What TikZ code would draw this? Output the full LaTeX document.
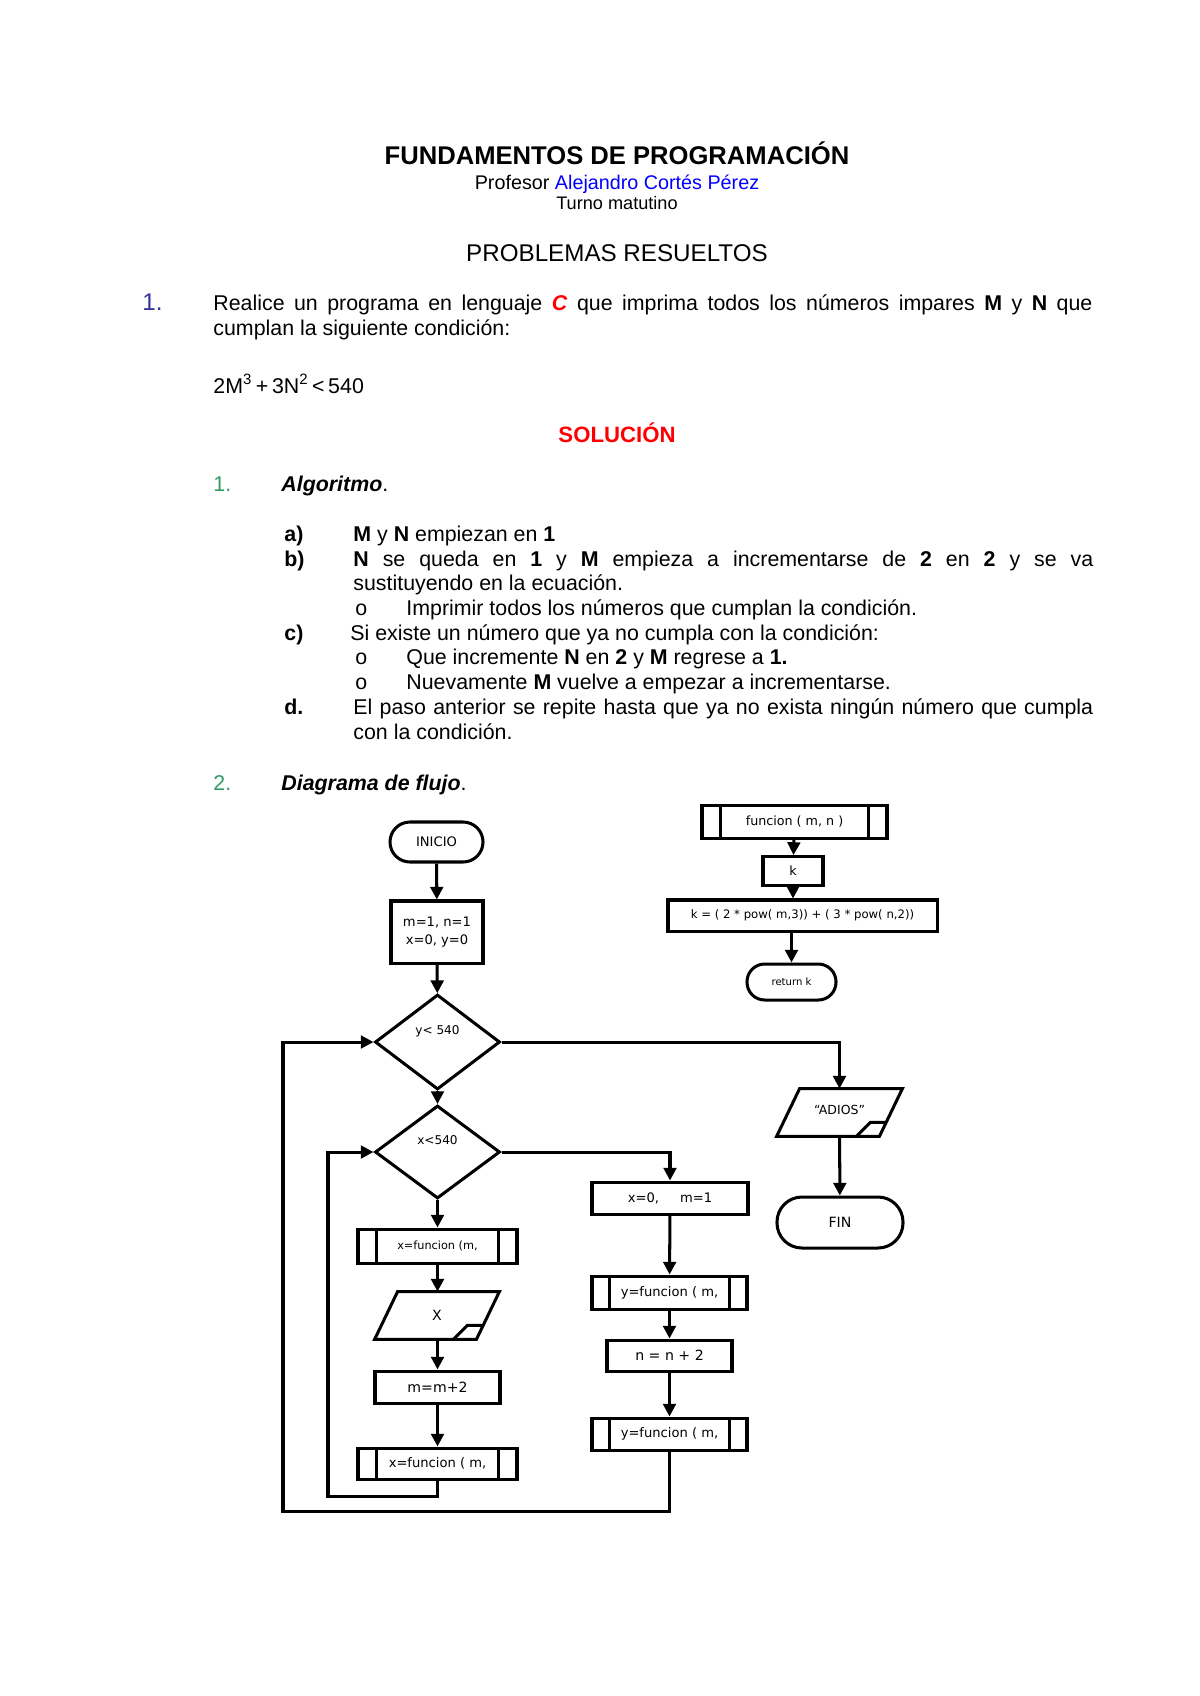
\documentclass[tikz,border=0pt]{standalone}
\usepackage{fontspec}
\setmainfont{Liberation Sans}
\newfontfamily\dfont{DejaVu Sans}
\usetikzlibrary{shapes.geometric,arrows.meta,calc}
\definecolor{numblue}{RGB}{51,51,153}
\definecolor{numgreen}{RGB}{51,153,102}
\begin{document}
\begin{tikzpicture}[x=0.49606pt,y=-0.49606pt,
  txt/.style={anchor=base west,inner sep=0,font=\fontsize{10.6}{13}\selectfont},
  ctxt/.style={anchor=base,inner sep=0},
  sz/.style 2 args={minimum width=#1*0.49606pt,minimum height=#2*0.49606pt},
  fc/.style={draw,line width=1.5pt,inner sep=1pt,align=center,font=\dfont\fontsize{6}{7.5}\selectfont},
  box/.style={fc,rectangle},
  subbox/.style={fc,rectangle},
  term/.style={fc,rectangle,rounded corners=#1},
  dec/.style={fc,diamond},
  io/.style={inner sep=0,align=center,font=\dfont\fontsize{6}{7.5}\selectfont},
  lnk/.style={line width=1.5pt},
  arr/.style={line width=1.5pt,-{Triangle[length=6.3pt,width=6.3pt]}}
]
\fill[white] (0,0) rectangle (1200,1696);
\useasboundingbox (0,0) rectangle (1200,1696);

% ---------- header ----------
\node[ctxt,font=\bfseries\fontsize{12.7}{15}\selectfont] (title) at (617,164.5) {FUNDAMENTOS DE PROGRAMACIÓN};
\node[ctxt,font=\fontsize{9.8}{12}\selectfont] (prof) at (617,189) {Profesor \textcolor{blue}{Alejandro Cortés Pérez}};
\node[ctxt,font=\fontsize{9}{11}\selectfont] (turno) at (617,209) {Turno matutino};
\node[ctxt,font=\fontsize{12}{14}\selectfont] (prob) at (617,261) {PROBLEMAS RESUELTOS};

% ---------- problem ----------
\node[txt,text=numblue,font=\fontsize{12}{14}\selectfont] (n1) at (142,310) {1.};
\node[txt] (l1) at (213,310) {\makebox[436pt][s]{Realice un programa en lenguaje \textcolor{red}{\textbf{\textit{C}}} que imprima todos los números impares \textbf{M} y \textbf{N} que}};
\node[txt] (l2) at (213,335) {cumplan la siguiente condición:};
\node[txt] (eq) at (213,393) {2M\textsuperscript{3}\,+\,3N\textsuperscript{2}\,<\,540};

\node[ctxt,text=red,font=\bfseries\fontsize{11}{13}\selectfont] (sol) at (617,442) {SOLUCIÓN};

\node[txt,text=numgreen] (s1n) at (213,491) {1.};
\node[txt] (s1t) at (281,491) {\textbf{\textit{Algoritmo}}.};

\node[txt] (am) at (284,541) {\textbf{a)}};
\node[txt] (at) at (353,541) {\textbf{M} y \textbf{N} empiezan en \textbf{1}};
\node[txt] (bm) at (284,566) {\textbf{b)}};
\node[txt] (bt) at (353,566) {\makebox[367pt][s]{\textbf{N} se queda en \textbf{1} y \textbf{M} empieza a incrementarse de \textbf{2} en \textbf{2} y se va}};
\node[txt] (bt2) at (353,590) {sustituyendo en la ecuación.};
\node[txt] (o1) at (355,615) {o};
\node[txt] (o1t) at (406,615) {Imprimir todos los números que cumplan la condición.};
\node[txt] (cm) at (284,640) {\textbf{c)}};
\node[txt] (ct) at (350,640) {Si existe un número que ya no cumpla con la condición:};
\node[txt] (o2) at (355,664) {o};
\node[txt] (o2t) at (406,664) {Que incremente \textbf{N} en \textbf{2} y \textbf{M} regrese a \textbf{1.}};
\node[txt] (o3) at (355,689) {o};
\node[txt] (o3t) at (406,689) {Nuevamente \textbf{M} vuelve a empezar a incrementarse.};
\node[txt] (dm) at (284,714) {\textbf{d.}};
\node[txt] (dt) at (353,714) {\makebox[367pt][s]{El paso anterior se repite hasta que ya no exista ningún número que cumpla}};
\node[txt] (dt2) at (353,739) {con la condición.};

\node[txt,text=numgreen] (s2n) at (213,790) {2.};
\node[txt] (s2t) at (281,790) {\textbf{\textit{Diagrama de flujo}}.};

% ---------- flowchart: main ----------
\node[term=9.9pt,sz={93}{40},font=\dfont\fontsize{6.5}{8}\selectfont] (inicio) at (436.5,842) {INICIO};
\node[box,sz={92}{62},font=\dfont\fontsize{6.5}{9}\selectfont] (init) at (437,932) {m=1, n=1\\x=0, y=0};
\node[dec,sz={125}{95}] (d1) at (437.5,1042) {\raisebox{3.5pt}[0pt][0pt]{y< 540}};
\node[dec,sz={125}{93}] (d2) at (437.5,1152) {\raisebox{3.5pt}[0pt][0pt]{x<540}};
\node[subbox,sz={159}{34},font=\dfont\fontsize{5.6}{7}\selectfont] (s1) at (437.5,1246) {x=funcion (m,};
\node[io,sz={124}{47},font=\dfont\fontsize{7}{8}\selectfont] (xout) at (437,1315.5) {\raisebox{-2pt}{X}};
\node[box,sz={125}{32},font=\dfont\fontsize{7}{8}\selectfont] (mm) at (437.5,1387) {m=m+2};
\node[subbox,sz={159}{31},font=\dfont\fontsize{6.5}{8}\selectfont] (s2) at (437.5,1463.5) {x=funcion ( m,};

% right branch
\node[box,sz={156}{32},font=\dfont\fontsize{6.5}{8}\selectfont] (x0) at (670,1198) {x=0,\hspace{1.6em}m=1};
\node[subbox,sz={155}{33},font=\dfont\fontsize{6.5}{8}\selectfont] (y1) at (669.5,1292.5) {y=funcion ( m,};
\node[box,sz={125}{31},font=\dfont\fontsize{7}{8}\selectfont] (nn) at (669.5,1355.5) {n = n + 2};
\node[subbox,sz={155}{32},font=\dfont\fontsize{6.5}{8}\selectfont] (y2) at (669.5,1434) {y=funcion ( m,};

% exit
\node[io,sz={125}{47},font=\dfont\fontsize{6.2}{8}\selectfont] (adios) at (839.5,1112.5) {\raisebox{2.5pt}{“ADIOS”}};
\node[term=12.4pt,sz={126}{51},font=\dfont\fontsize{7}{8}\selectfont] (fin) at (840,1222.5) {FIN};

% function
\node[subbox,sz={185}{33},font=\dfont\fontsize{6.3}{8}\selectfont] (func) at (794.5,822) {funcion ( m, n )};
\node[box,sz={60}{29},font=\dfont\fontsize{6.3}{8}\selectfont] (kdecl) at (793,871) {k};
\node[box,sz={269}{31},font=\dfont\fontsize{5.8}{7}\selectfont] (keq) at (802.5,915.5) {k = ( 2 * pow( m,3)) + ( 3 * pow( n,2))};
\node[term=8.8pt,sz={89}{36},font=\dfont\fontsize{5}{6}\selectfont] (ret) at (791.5,982) {return k};

% subroutine side bars
\foreach \n/\o in {s1/20,s2/20,y1/19,y2/19,func/20}{
  \draw[lnk] ($(\n.north west)+(\o,0)$) -- ($(\n.south west)+(\o,0)$);
  \draw[lnk] ($(\n.north east)+(-\o,0)$) -- ($(\n.south east)+(-\o,0)$);
}

% input/output parallelograms with notch
\foreach \n in {xout,adios}{
  \draw[lnk,line join=miter] ($(\n.north west)+(23,0)$) -- (\n.north east) -- ($(\n.south east)+(-23,0)$) -- (\n.south west) -- cycle;
  \draw[lnk] ($(\n.south east)+(-46,0)$) -- ($(\n.south east)+(-32,-14)$) -- ($(\n.south east)+(-16,-14)$);
}

% ---------- connectors ----------
\draw[arr] (inicio) -- (init);
\draw[arr] (init) -- (d1);
\draw[arr] (d1) -- (d2);
\draw[arr] (d1.east) -| (adios.north);
\draw[arr] (adios) -- (fin);
\draw[arr] (d2.east) -| (x0.north);
\draw[arr] (d2) -- (s1);
\draw[arr] (s1.south) -- (s1.south |- xout.north);
\draw[arr] (xout.south -| mm.north) -- (mm.north);
\draw[arr] (mm) -- (s2);
\coordinate (lp1) at (328,1496);
\draw[arr] (s2.south) |- (lp1) |- (d2.west);
\draw[arr] (x0) -- (y1);
\draw[arr] (y1) -- (nn);
\draw[arr] (nn) -- (y2);
\coordinate (lp2) at (283,1511);
\draw[arr] (y2.south) |- (lp2) |- (d1.west);
\draw[arr] (func) -- (kdecl);
\draw[arr] (kdecl.south) -- (kdecl.south |- keq.north);
\draw[arr] (ret.north |- keq.south) -- (ret.north);
\end{tikzpicture}
\end{document}
